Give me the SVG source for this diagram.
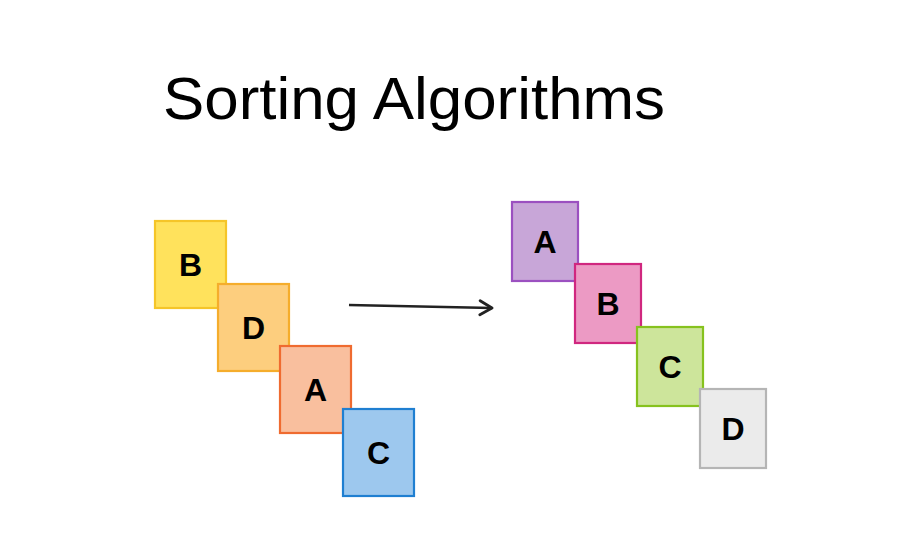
<svg xmlns="http://www.w3.org/2000/svg" width="923" height="549" viewBox="0 0 923 549">
<style>
.box{stroke-width:2.2}
.lbl{font-family:"Liberation Sans",Arial,sans-serif;font-weight:bold;font-size:32px;fill:#000;text-anchor:middle}
.title{font-family:"Liberation Sans",Arial,sans-serif;font-size:60px;fill:#000}
</style>
<defs>
<marker id="arr" markerWidth="18" markerHeight="18" refX="15" refY="9" orient="auto" markerUnits="userSpaceOnUse">
<path d="M3,2 L15,9 L3,16" fill="none" stroke="#222" stroke-width="2.8" stroke-linecap="round" stroke-linejoin="round"/>
</marker>
</defs>
<rect width="923" height="549" fill="#fff"/>
<text class="title" x="163" y="119" textLength="502" lengthAdjust="spacingAndGlyphs">Sorting Algorithms</text>
<g id="connectors">
<line x1="349" y1="305" x2="492" y2="308" stroke="#222" stroke-width="2.5" marker-end="url(#arr)"/>
</g>
<g id="left-B"><rect class="box" x="155" y="221" width="71" height="87" fill="#FFE25C" stroke="#F5C528"/><text class="lbl" x="190.5" y="276">B</text></g>
<g id="left-D"><rect class="box" x="218" y="284" width="71" height="87" fill="#FDCE7E" stroke="#F5AD2C"/><text class="lbl" x="253.5" y="339">D</text></g>
<g id="left-A"><rect class="box" x="280" y="346" width="71" height="87" fill="#F9BF9E" stroke="#EF6B30"/><text class="lbl" x="315.5" y="401">A</text></g>
<g id="left-C"><rect class="box" x="343" y="409" width="71" height="87" fill="#9DC8EE" stroke="#1F7FD1"/><text class="lbl" x="378.5" y="464">C</text></g>
<g id="right-A"><rect class="box" x="512" y="202" width="66" height="79" fill="#C8A6D8" stroke="#9B50C0"/><text class="lbl" x="545" y="253">A</text></g>
<g id="right-B"><rect class="box" x="575" y="264" width="66" height="79" fill="#EC9AC4" stroke="#D0277F"/><text class="lbl" x="608" y="315">B</text></g>
<g id="right-C"><rect class="box" x="637" y="327" width="66" height="79" fill="#CDE59B" stroke="#86C21E"/><text class="lbl" x="670" y="378">C</text></g>
<g id="right-D"><rect class="box" x="700" y="389" width="66" height="79" fill="#EBEBEB" stroke="#B5B5B5"/><text class="lbl" x="733" y="440">D</text></g>
</svg>
